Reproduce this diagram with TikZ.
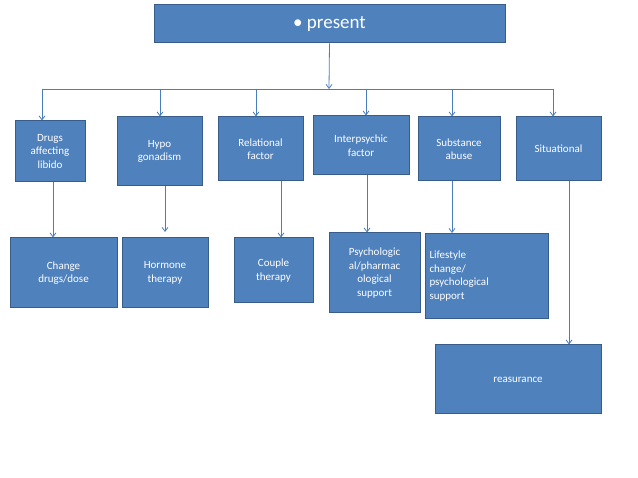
\documentclass[tikz,border=0pt]{standalone}
\usepackage{fontspec}
\setmainfont{Carlito}
\usetikzlibrary{arrows.meta}
\definecolor{bfill}{HTML}{4F81BD}
\definecolor{bline}{HTML}{385D8A}
\definecolor{cline}{HTML}{4A7EBB}
\begin{document}
\begin{tikzpicture}[x=1pt,y=-1pt,
 box/.style={draw=bline,fill=bfill,line width=1pt,text=white,align=center,font=\fontsize{11}{13.5}\selectfont,inner sep=1pt},
 arr/.style={draw=cline,line width=0.8pt,-{Straight Barb[length=4pt,width=6pt]}},
 ln/.style={draw=cline,line width=0.8pt}]
\useasboundingbox (0,0) rectangle (638,478);
\newcommand{\bx}[6]{\node[box,minimum width=#4-#2,minimum height=#5-#3] (#1) at ({(#2+#4)/2},{(#3+#5)/2}) {#6};}
\node[box,minimum width=351,minimum height=38,font=\fontsize{19}{22}\selectfont] (p) at (329.5,24) {• present};
\bx{d}{15}{121}{85}{182}{Drugs\\affecting\\libido}
\bx{h}{117}{117}{202}{186}{Hypo\\gonadism}
\bx{r}{218}{117}{303}{181}{Relational\\factor}
\bx{i}{313}{116}{409}{175}{Interpsychic\\factor}
\bx{s}{418}{117}{500}{181}{Substance\\abuse}
\bx{t}{516}{117}{601}{181}{Situational}
\bx{c}{10}{238}{117}{308}{Change\\drugs/dose}
\bx{ho}{122}{238}{208}{308}{Hormone\\therapy}
\bx{co}{234}{238}{313}{303}{Couple\\therapy}
\bx{ps}{329}{233}{420}{313}{Psychologic\\al/pharmac\\ological\\support}
\node[box,minimum width=123,minimum height=85,align=left,text width=115,anchor=north west] (l) at (425,233) {Lifestyle\\change/\\psychological\\support};
\bx{re}{435}{345}{601}{414}{reasurance}
\coordinate (j) at (329,89);
\draw[arr] (p.south) -- (j);
\draw[ln] (42,89) -- (553,89);
\foreach \n/\x in {d/42,h/160,r/256,i/366,s/452,t/553}{
 \draw[arr] (\x,89) -- (\x,0 |- \n.north);}
\draw[arr] (d.south -| 53,0) -- (53,0 |- c.north);
\draw[arr] (h.south -| 165,0) -- (165,232);
\draw[arr] (r.south -| 281,0) -- (281,0 |- co.north);
\draw[arr] (i.south -| 367,0) -- (367,0 |- ps.north);
\draw[arr] (s.south -| 452,0) -- (452,0 |- l.north);
\draw[arr] (t.south -| 569,0) -- (569,0 |- re.north);
\end{tikzpicture}
\end{document}
